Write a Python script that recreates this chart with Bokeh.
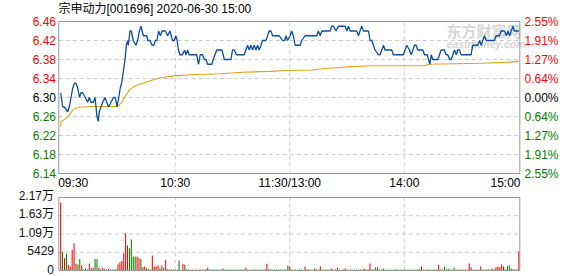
from bokeh.plotting import figure
from bokeh.models import ColumnDataSource, Range1d
from bokeh.core.properties import value
from bokeh.embed import file_html
from bokeh.resources import INLINE

# ---------------- data ----------------
title_text = "宗申动力[001696] 2020-06-30 15:00"
prev_close = 6.30

price_ticks = [6.14, 6.18, 6.22, 6.26, 6.30, 6.34, 6.38, 6.42, 6.46]
price_tick_labels = ["6.14", "6.18", "6.22", "6.26", "6.30", "6.34", "6.38", "6.42", "6.46"]
pct_tick_labels = ["2.55%", "1.91%", "1.27%", "0.64%", "0.00%", "0.64%", "1.27%", "1.91%", "2.55%"]

time_ticks = [0, 60, 120, 180, 240]
time_labels = ["09:30", "10:30", "11:30/13:00", "14:00", "15:00"]

vol_ticks = [0, 5429, 10858, 16287, 21716]
vol_tick_labels = ["0", "5429", "1.09万", "1.63万", "2.17万"]

# price line (minute since 09:30, price)
price_min = [0, 1.0, 1.9, 3.7, 4.5, 5.4, 6.3, 7.2, 8.0, 8.9, 9.8, 10.6, 11.5, 12.9, 14.1, 15.0,
             15.9, 17.1, 18.0, 18.5, 19.0, 19.7, 20.2, 21.1, 22.0, 23.2, 24.1, 25.1, 26.4, 27.6,
             28.6, 29.5, 30.4, 31.2, 31.9, 33.0, 33.7, 34.4, 35.1, 35.4, 36.3, 37.0, 38.0, 39.4,
             40.3, 41.2, 42.1, 42.6, 43.3, 44.3, 45.0, 45.7, 46.8, 47.8, 48.7, 49.6, 50.4, 51.3,
             52.2, 53.1, 53.9, 54.8, 56.0, 57.2, 58.6, 59.5, 60.3, 61.0, 61.7, 62.4, 63.8, 64.9,
             65.6, 66.5, 67.3, 71.2, 71.7, 72.2, 73.1, 74.3, 75.2, 76.1, 76.9, 79.2, 79.9, 80.8,
             81.8, 84.4, 85.1, 85.7, 89.2, 90.0, 90.9, 92.1, 96.1, 97.0, 97.9, 98.8, 99.6, 100.5,
             101.4, 102.3, 103.1, 104.0, 104.9, 105.7, 107.5, 108.4, 109.2, 110.1, 111.0, 114.5,
             116.2, 117.3, 118.0, 118.8, 120.2, 121.0, 121.9, 122.8, 125.4, 126.3, 128.0, 134.1,
             135.0, 135.9, 136.8, 141.1, 142.0, 142.9, 144.3, 145.5, 149.0, 149.9, 150.7, 151.6,
             155.1, 156.0, 156.8, 157.7, 158.6, 161.2, 162.1, 163.0, 163.8, 164.7, 166.4, 167.3,
             168.2, 169.1, 169.9, 173.4, 174.3, 179.5, 180.4, 181.3, 182.7, 183.6, 184.5, 185.3,
             186.2, 187.1, 189.7, 190.6, 192.0, 192.7, 193.4, 194.1, 194.9, 197.6, 198.4, 199.3,
             201.0, 201.9, 202.8, 203.7, 204.5, 205.4, 206.3, 207.2, 208.0, 208.9, 209.8, 215.0,
             215.4, 215.9, 218.5, 219.4, 220.3, 221.1, 222.0, 222.9, 227.2, 228.1, 229.9, 230.7,
             232.5, 233.4, 234.2, 235.1, 236.0, 236.9, 237.7, 240.0]
price_val = [6.31, 6.28, 6.28, 6.27, 6.28, 6.30, 6.32, 6.33, 6.33, 6.32, 6.30, 6.31, 6.31, 6.30, 6.29, 6.30,
             6.29, 6.29, 6.30, 6.28, 6.26, 6.25, 6.27, 6.28, 6.29, 6.30, 6.29, 6.28, 6.29, 6.30,
             6.30, 6.28, 6.30, 6.32, 6.33, 6.36, 6.38, 6.41, 6.42, 6.41, 6.44, 6.44, 6.42, 6.41,
             6.42, 6.44, 6.45, 6.44, 6.43, 6.43, 6.43, 6.42, 6.42, 6.41, 6.41, 6.42, 6.42, 6.44,
             6.43, 6.44, 6.44, 6.44, 6.43, 6.44, 6.42, 6.42, 6.43, 6.42, 6.40, 6.39, 6.39, 6.40,
             6.39, 6.40, 6.39, 6.39, 6.38, 6.37, 6.39, 6.39, 6.38, 6.38, 6.37, 6.37, 6.38, 6.39,
             6.40, 6.40, 6.39, 6.38, 6.38, 6.40, 6.40, 6.39, 6.39, 6.40, 6.41, 6.40, 6.41, 6.40,
             6.41, 6.40, 6.41, 6.40, 6.41, 6.42, 6.42, 6.43, 6.44, 6.44, 6.43, 6.43,
             6.42, 6.42, 6.43, 6.42, 6.43, 6.44, 6.43, 6.41, 6.41, 6.42, 6.43, 6.43,
             6.44, 6.43, 6.44, 6.44, 6.45, 6.45, 6.44, 6.45, 6.45, 6.44, 6.45, 6.44,
             6.44, 6.43, 6.44, 6.45, 6.44, 6.44, 6.42, 6.42, 6.41, 6.40, 6.39, 6.39,
             6.40, 6.41, 6.40, 6.40, 6.39, 6.39, 6.40, 6.41, 6.40, 6.39, 6.40, 6.41,
             6.41, 6.40, 6.40, 6.39, 6.39, 6.38, 6.37, 6.39, 6.38, 6.38, 6.39, 6.40,
             6.40, 6.39, 6.39, 6.38, 6.38, 6.39, 6.40, 6.39, 6.40, 6.40, 6.39, 6.39,
             6.40, 6.41, 6.41, 6.42, 6.41, 6.42, 6.43, 6.42, 6.42, 6.43, 6.43, 6.44,
             6.44, 6.43, 6.44, 6.43, 6.44, 6.45, 6.44, 6.44]

# average price line
avg_min = [0, 0.2, 2.8, 4.5, 6.3, 8.0, 11.5, 18.5, 29.8, 31.6, 33.3, 36.0, 38.6, 41.2, 44.7,
           48.2, 51.7, 55.1, 60.4, 62.1, 67.3, 83.9, 95.3, 109.2, 118.8, 131.5, 138.5, 145.5,
           152.5, 163.0, 182.2, 191.4, 192.3, 221.1, 232.5, 240.0]
avg_val = [6.239, 6.249, 6.256, 6.263, 6.274, 6.278, 6.280, 6.281, 6.281, 6.288, 6.299, 6.316,
           6.323, 6.328, 6.332, 6.337, 6.341, 6.343, 6.346, 6.346, 6.348, 6.350, 6.353, 6.355,
           6.357, 6.358, 6.361, 6.363, 6.365, 6.367, 6.367, 6.367, 6.370, 6.372, 6.374, 6.376]

# per-minute volume (shares) and direction (r = up, g = down)
volume = [20250, 5600, 3650, 4950, 1700, 1200, 6100, 8100, 2000, 1800,
          3450, 1500, 300, 600, 300, 2000, 700, 800, 3450, 3450,
          800, 400, 800, 400, 300, 500, 300, 300, 300, 400,
          1800, 2400, 2800, 5150, 11050, 7400, 6600, 9200, 4150, 4150,
          4150, 3750, 3450, 1000, 1200, 700, 400, 300, 4450, 1200,
          1200, 1500, 700, 1500, 800, 3200, 400, 300, 300, 300,
          200, 200, 3000, 200, 2000, 1700, 400, 300, 250, 300,
          250, 300, 200, 300, 250, 300, 400, 800, 300, 250,
          300, 250, 300, 200, 300, 600, 300, 250, 300, 300,
          250, 300, 200, 300, 250, 300, 300, 800, 300, 250,
          300, 250, 300, 300, 250, 300, 300, 350, 2000, 400,
          300, 250, 300, 300, 200, 300, 250, 300, 300, 1500,
          1200, 300, 250, 300, 250, 300, 300, 250, 1200, 400,
          300, 300, 250, 600, 300, 250, 1200, 300, 250, 300,
          250, 300, 600, 250, 300, 800, 300, 250, 300, 600,
          300, 250, 300, 250, 300, 300, 250, 300, 300, 600,
          300, 400, 2100, 300, 300, 1000, 900, 300, 300, 600,
          250, 300, 250, 300, 250, 300, 300, 250, 300, 250,
          300, 250, 300, 250, 300, 300, 250, 300, 300, 1200,
          300, 250, 300, 300, 250, 300, 300, 300, 1700, 300,
          250, 1200, 300, 600, 300, 250, 900, 300, 300, 250,
          300, 250, 300, 300, 2100, 1000, 300, 250, 300, 300,
          1200, 300, 250, 300, 300, 300, 600, 300, 1000, 1200,
          1000, 1800, 1200, 300, 1300, 1500, 600, 400, 300, 300,
          5700]
direction = ("rgrgrrrrgr" "grggrrrrgg" "rgrrgrrrrr" "rrrrrrgggg" "rrgrrgrrrr"
             "rrgrgrrgrg" "grgrrgrrrg" "rrrgrrrgrr" "rrgrrrrrgr" "rrrrgrrrrr"
             "rgrrrrgrrr" "rrrgrrrrrg" "rrrrrgrrrr" "rrrrrrrrgr" "rrrrrrgrrg"
             "rrrrgrrrrr" "rrrrrggrrg" "rrrgrrrrrr" "rrgrrrrrrr" "rrrrrrgrrr"
             "rgrgrrgrrr" "rrrrrrrrrr" "rrgrrrrrrr" "rrrrggrrrr" "r")

# ---------------- layout (pixels) & style ----------------
W, H = 578, 276
FX0, FX1 = 58.3, 519.3          # frame left / right
PY_TOP, PY_BOT = 21.0, 173.0    # price frame top / bottom
VY_TOP, VY_BOT = 197.0, 270.0   # volume frame top / bottom
X0, X1 = -1.0, 240.5            # minutes at frame edges

FONT = "Liberation Sans, Noto Sans CJK SC"
RED, GREEN, BLACK = "#ff0000", "#008000", "#000000"
GRID, FRAME = "#cccccc", "#999999"

p_lo, p_hi = price_ticks[0], price_ticks[-1]
v_lo, v_hi = vol_ticks[0], vol_ticks[-1]

kx = (X1 - X0) / (FX1 - FX0)
kp = (p_hi - p_lo) / (PY_BOT - PY_TOP)
kv = (v_hi - v_lo) / (VY_BOT - VY_TOP)

x_range = Range1d(X0 - FX0 * kx, X1 + (W - FX1) * kx)
y_range = Range1d(p_lo - (H - PY_BOT) * kp, p_hi + PY_TOP * kp)
vol_range = Range1d(v_lo - (H - VY_BOT) * kv, v_hi + VY_TOP * kv)


def xs(px):      # screen x -> minutes
    return x_range.start + px * kx


def ps(py):      # screen y -> price
    return y_range.end - py * kp


def level_color(v):
    if abs(v - prev_close) < 1e-9:
        return BLACK
    return RED if v > prev_close else GREEN


p = figure(width=W, height=H, x_range=x_range, y_range=y_range,
           x_axis_type=None, y_axis_type=None, toolbar_location=None,
           output_backend="svg", min_border=0)
p.extra_y_ranges = {"vol": vol_range}
p.outline_line_color = None
p.background_fill_color = "white"
p.border_fill_color = "white"
p.grid.visible = False

# ---- grids ----
hp = price_ticks[1:-1]
p.segment(x0=[X0] * len(hp), x1=[X1] * len(hp), y0=hp, y1=hp,
          line_color=GRID, line_dash="4 3", line_width=1)
vt = time_ticks[1:-1]
p.segment(x0=vt, x1=vt, y0=[p_lo] * len(vt), y1=[p_hi] * len(vt),
          line_color=GRID, line_dash="4 3", line_width=1)
hv = vol_ticks[1:-1]
p.segment(x0=[X0] * len(hv), x1=[X1] * len(hv), y0=hv, y1=hv, y_range_name="vol",
          line_color=GRID, line_dash="4 3", line_width=1)
p.segment(x0=vt, x1=vt, y0=[v_lo] * len(vt), y1=[v_hi] * len(vt), y_range_name="vol",
          line_color=GRID, line_dash="4 3", line_width=1)

# ---- watermark ----
p.text(x=[xs(446)], y=[ps(30)], text=["东方财富网"], text_color="#d6d6d6",
       text_font=value("Noto Sans CJK SC"), text_font_size="15px",
       text_font_style="bold", text_baseline="middle", text_align="left")
p.text(x=[xs(446)], y=[ps(43)], text=["eastmoney.com"], text_color="#d6d6d6",
       text_font=value("Liberation Sans"), text_font_size="10.5px",
       text_font_style="bold italic", text_baseline="middle", text_align="left")

# ---- series ----
p.line(avg_min, avg_val, line_color="#dfa21c", line_width=1.1)
p.line(price_min, price_val, line_color="#0b4ea2", line_width=1.3)

vsrc = ColumnDataSource(dict(
    m=list(range(len(volume))), v=volume,
    c=[RED if d == "r" else GREEN for d in direction]))
p.vbar(x="m", top="v", bottom=0, width=0.55, fill_color="c", line_color=None,
       source=vsrc, y_range_name="vol")

# ---- frames ----
p.quad(left=[X0], right=[X1], bottom=[p_lo], top=[p_hi], fill_color=None,
       line_color=FRAME, line_width=1)
p.quad(left=[X0], right=[X1], bottom=[v_lo], top=[v_hi], fill_color=None,
       line_color=FRAME, line_width=1, y_range_name="vol")

# ---- axis texts ----
n = len(price_ticks)
tick_colors = [level_color(v) for v in price_ticks]
p.text(x=[xs(55.5)] * n, y=price_ticks, text=price_tick_labels, text_color=tick_colors,
       text_align="right", text_baseline="middle",
       text_font=value(FONT), text_font_size="12px")
p.text(x=[xs(524)] * n, y=price_ticks, text=pct_tick_labels, text_color=tick_colors,
       text_align="left", text_baseline="middle",
       text_font=value(FONT), text_font_size="12px")

ty = ps(182.5)
p.text(x=[xs(57.7)], y=[ty], text=time_labels[:1], text_color=BLACK,
       text_align="left", text_baseline="middle",
       text_font=value(FONT), text_font_size="12px")
p.text(x=time_ticks[1:-1], y=[ty] * 3, text=time_labels[1:-1], text_color=BLACK,
       text_align="center", text_baseline="middle",
       text_font=value(FONT), text_font_size="12px")
p.text(x=[xs(520)], y=[ty], text=time_labels[-1:], text_color=BLACK,
       text_align="right", text_baseline="middle",
       text_font=value(FONT), text_font_size="12px")

m = len(vol_ticks)
lift = 1.5 * kv   # keep the bottom label inside the window
p.text(x=[xs(53.5)] * m, y=[v + lift for v in vol_ticks], text=vol_tick_labels,
       text_color="#111111", text_align="right", text_baseline="middle",
       y_range_name="vol", text_font=value(FONT), text_font_size="12px")

p.text(x=[xs(58)], y=[ps(8.5)], text=[title_text], text_color=BLACK,
       text_align="left", text_baseline="middle",
       text_font=value(FONT), text_font_size="12px")

open("out.html", "w").write(file_html(p, INLINE))
